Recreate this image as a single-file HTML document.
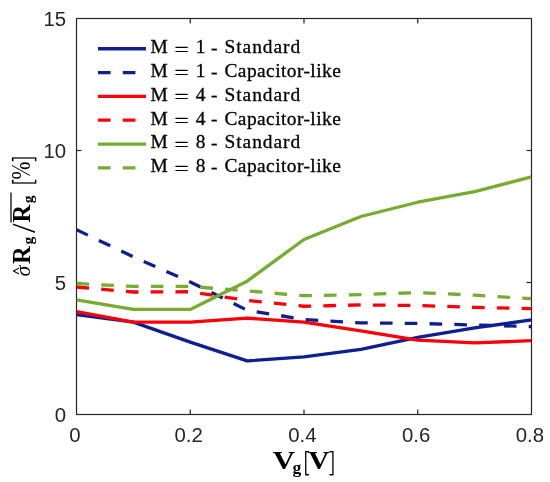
<!DOCTYPE html>
<html><head><meta charset="utf-8"><title>plot</title>
<style>
html,body{margin:0;padding:0;background:#fff;}
svg{display:block;}
.tk{font-family:"Liberation Sans",sans-serif;fill:#262626;}
.lg{font-family:"Liberation Serif",serif;font-weight:normal;fill:#000;stroke:#000;stroke-width:0.3px;}
.lb{font-family:"Liberation Serif",serif;font-weight:bold;fill:#000;}
.n{font-weight:normal;}
.br{font-family:"DejaVu Sans","Liberation Sans",sans-serif;font-weight:200;fill:#000;stroke:#000;stroke-width:0.25px;}
</style></head><body>
<svg width="550" height="482" viewBox="0 0 550 482">
<rect x="0" y="0" width="550" height="482" fill="#fff"/>
<defs><clipPath id="cp"><rect x="76.5" y="18.5" width="455" height="396"/></clipPath></defs>

<rect x="76.5" y="18.5" width="455.0" height="396.0" fill="none" stroke="#262626" stroke-width="1.2"/>
<line x1="190.25" y1="414.5" x2="190.25" y2="409.5" stroke="#262626" stroke-width="1.2"/>
<line x1="190.25" y1="18.5" x2="190.25" y2="23.5" stroke="#262626" stroke-width="1.2"/>
<line x1="304.00" y1="414.5" x2="304.00" y2="409.5" stroke="#262626" stroke-width="1.2"/>
<line x1="304.00" y1="18.5" x2="304.00" y2="23.5" stroke="#262626" stroke-width="1.2"/>
<line x1="417.75" y1="414.5" x2="417.75" y2="409.5" stroke="#262626" stroke-width="1.2"/>
<line x1="417.75" y1="18.5" x2="417.75" y2="23.5" stroke="#262626" stroke-width="1.2"/>
<line x1="76.5" y1="282.50" x2="81.5" y2="282.50" stroke="#262626" stroke-width="1.2"/>
<line x1="531.5" y1="282.50" x2="526.5" y2="282.50" stroke="#262626" stroke-width="1.2"/>
<line x1="76.5" y1="150.50" x2="81.5" y2="150.50" stroke="#262626" stroke-width="1.2"/>
<line x1="531.5" y1="150.50" x2="526.5" y2="150.50" stroke="#262626" stroke-width="1.2"/>
<g clip-path="url(#cp)">
<polyline points="76.50,314.71 133.38,322.10 190.25,342.16 247.12,360.91 304.00,356.95 360.88,349.29 417.75,337.41 474.62,327.91 531.50,319.99" fill="none" stroke="#0e2091" stroke-width="3.3" stroke-linejoin="round"/>
<polyline points="76.50,229.70 133.38,256.89 190.25,281.97 247.12,310.22 304.00,319.46 360.88,322.89 417.75,323.42 474.62,325.00 531.50,326.59" fill="none" stroke="#0e2091" stroke-width="3.3" stroke-linejoin="round" stroke-dasharray="12.6 12.2"/>
<polyline points="76.50,311.54 133.38,322.10 190.25,322.10 247.12,318.14 304.00,322.10 360.88,330.81 417.75,340.05 474.62,342.96 531.50,340.58" fill="none" stroke="#fb0007" stroke-width="3.3" stroke-linejoin="round"/>
<polyline points="76.50,286.99 133.38,292.00 190.25,291.74 247.12,300.45 304.00,306.26 360.88,304.94 417.75,305.47 474.62,307.32 531.50,308.64" fill="none" stroke="#fb0007" stroke-width="3.3" stroke-linejoin="round" stroke-dasharray="12.6 12.2"/>
<polyline points="76.50,299.92 133.38,309.43 190.25,309.43 247.12,281.18 304.00,239.47 360.88,216.50 417.75,202.24 474.62,191.68 531.50,176.90" fill="none" stroke="#77ac30" stroke-width="3.3" stroke-linejoin="round"/>
<polyline points="76.50,283.56 133.38,286.46 190.25,286.46 247.12,290.95 304.00,295.70 360.88,294.64 417.75,292.53 474.62,295.17 531.50,298.60" fill="none" stroke="#77ac30" stroke-width="3.3" stroke-linejoin="round" stroke-dasharray="12.6 12.2"/>
</g>
<text class="tk" transform="translate(74.80,441.80) scale(1.04,1)" font-size="19.6" text-anchor="middle">0</text>
<text class="tk" transform="translate(188.55,441.80) scale(1.04,1)" font-size="19.6" text-anchor="middle">0.2</text>
<text class="tk" transform="translate(302.30,441.80) scale(1.04,1)" font-size="19.6" text-anchor="middle">0.4</text>
<text class="tk" transform="translate(416.05,441.80) scale(1.04,1)" font-size="19.6" text-anchor="middle">0.6</text>
<text class="tk" transform="translate(529.80,441.80) scale(1.04,1)" font-size="19.6" text-anchor="middle">0.8</text>
<text class="tk" transform="translate(66.20,422.10) scale(1.04,1)" font-size="19.6" text-anchor="end">0</text>
<text class="tk" transform="translate(66.20,290.10) scale(1.04,1)" font-size="19.6" text-anchor="end">5</text>
<text class="tk" transform="translate(66.20,158.10) scale(1.04,1)" font-size="19.6" text-anchor="end">10</text>
<text class="tk" transform="translate(66.20,26.10) scale(1.04,1)" font-size="19.6" text-anchor="end">15</text>
<line x1="98.0" y1="48.75" x2="146" y2="48.75" stroke="#0e2091" stroke-width="3.3"/>
<text class="lg" y="53.10" font-size="19.4"><tspan x="150.6">M</tspan> <tspan x="174.4" y="55.50" textLength="14.2" lengthAdjust="spacingAndGlyphs">=</tspan> <tspan x="195.8" y="53.10">1</tspan> <tspan x="211.0" y="53.80">-</tspan> <tspan x="224.5" y="53.10" letter-spacing="0.95">Standard</tspan></text>
<line x1="98.0" y1="72.57" x2="146" y2="72.57" stroke="#0e2091" stroke-width="3.3" stroke-dasharray="12.6 12.2"/>
<text class="lg" y="76.92" font-size="19.4"><tspan x="150.6">M</tspan> <tspan x="174.4" y="79.32" textLength="14.2" lengthAdjust="spacingAndGlyphs">=</tspan> <tspan x="195.8" y="76.92">1</tspan> <tspan x="211.0" y="77.62">-</tspan> <tspan x="224.5" y="76.92" letter-spacing="0.44">Capacitor-like</tspan></text>
<line x1="98.0" y1="96.39" x2="146" y2="96.39" stroke="#fb0007" stroke-width="3.3"/>
<text class="lg" y="100.74" font-size="19.4"><tspan x="150.6">M</tspan> <tspan x="174.4" y="103.14" textLength="14.2" lengthAdjust="spacingAndGlyphs">=</tspan> <tspan x="195.8" y="100.74">4</tspan> <tspan x="211.0" y="101.44">-</tspan> <tspan x="224.5" y="100.74" letter-spacing="0.95">Standard</tspan></text>
<line x1="98.0" y1="120.21" x2="146" y2="120.21" stroke="#fb0007" stroke-width="3.3" stroke-dasharray="12.6 12.2"/>
<text class="lg" y="124.56" font-size="19.4"><tspan x="150.6">M</tspan> <tspan x="174.4" y="126.96" textLength="14.2" lengthAdjust="spacingAndGlyphs">=</tspan> <tspan x="195.8" y="124.56">4</tspan> <tspan x="211.0" y="125.26">-</tspan> <tspan x="224.5" y="124.56" letter-spacing="0.44">Capacitor-like</tspan></text>
<line x1="98.0" y1="144.03" x2="146" y2="144.03" stroke="#77ac30" stroke-width="3.3"/>
<text class="lg" y="148.38" font-size="19.4"><tspan x="150.6">M</tspan> <tspan x="174.4" y="150.78" textLength="14.2" lengthAdjust="spacingAndGlyphs">=</tspan> <tspan x="195.8" y="148.38">8</tspan> <tspan x="211.0" y="149.08">-</tspan> <tspan x="224.5" y="148.38" letter-spacing="0.95">Standard</tspan></text>
<line x1="98.0" y1="167.85" x2="146" y2="167.85" stroke="#77ac30" stroke-width="3.3" stroke-dasharray="12.6 12.2"/>
<text class="lg" y="172.20" font-size="19.4"><tspan x="150.6">M</tspan> <tspan x="174.4" y="174.60" textLength="14.2" lengthAdjust="spacingAndGlyphs">=</tspan> <tspan x="195.8" y="172.20">8</tspan> <tspan x="211.0" y="172.90">-</tspan> <tspan x="224.5" y="172.20" letter-spacing="0.44">Capacitor-like</tspan></text>
<text class="lb" font-size="25"><tspan x="272.8" y="468.6" textLength="22.3" lengthAdjust="spacingAndGlyphs">V</tspan><tspan x="292.4" y="473.0" font-size="17.5">g</tspan><tspan class="br" x="302.6" y="470.6" font-size="26.5" textLength="9" lengthAdjust="spacingAndGlyphs">[</tspan><tspan x="308.2" y="468.6" textLength="21.2" lengthAdjust="spacingAndGlyphs">V</tspan><tspan class="br" x="327.0" y="470.6" font-size="26.5" textLength="9" lengthAdjust="spacingAndGlyphs">]</tspan></text>
<g transform="translate(29.7,276.2) rotate(-90)">
<text class="lb" font-size="24.5"><tspan class="lg" x="1.6" y="-8.9" font-size="11.5" textLength="7" lengthAdjust="spacingAndGlyphs">^</tspan><tspan x="-0.3" y="0" class="n" font-style="italic" font-size="21.8">σ</tspan><tspan x="12.3" y="0">R</tspan><tspan x="31.8" y="3.6" font-size="15.6">g</tspan><tspan x="43.1" y="5.6" class="n" font-size="34.5">/</tspan><tspan x="53.8" y="0">R</tspan><tspan x="73.0" y="3.6" font-size="15.6">g</tspan> <tspan class="br" x="90.2" y="2.2" font-size="26.5" textLength="8.5" lengthAdjust="spacingAndGlyphs">[</tspan><tspan x="96.6" y="0" class="n" font-size="26.8" textLength="17.9" lengthAdjust="spacingAndGlyphs">%</tspan><tspan class="br" x="112.8" y="2.2" font-size="26.5" textLength="8.5" lengthAdjust="spacingAndGlyphs">]</tspan></text>
<line x1="53.7" y1="-18.7" x2="83.7" y2="-18.7" stroke="#000" stroke-width="1.25"/>
</g>
</svg></body></html>
